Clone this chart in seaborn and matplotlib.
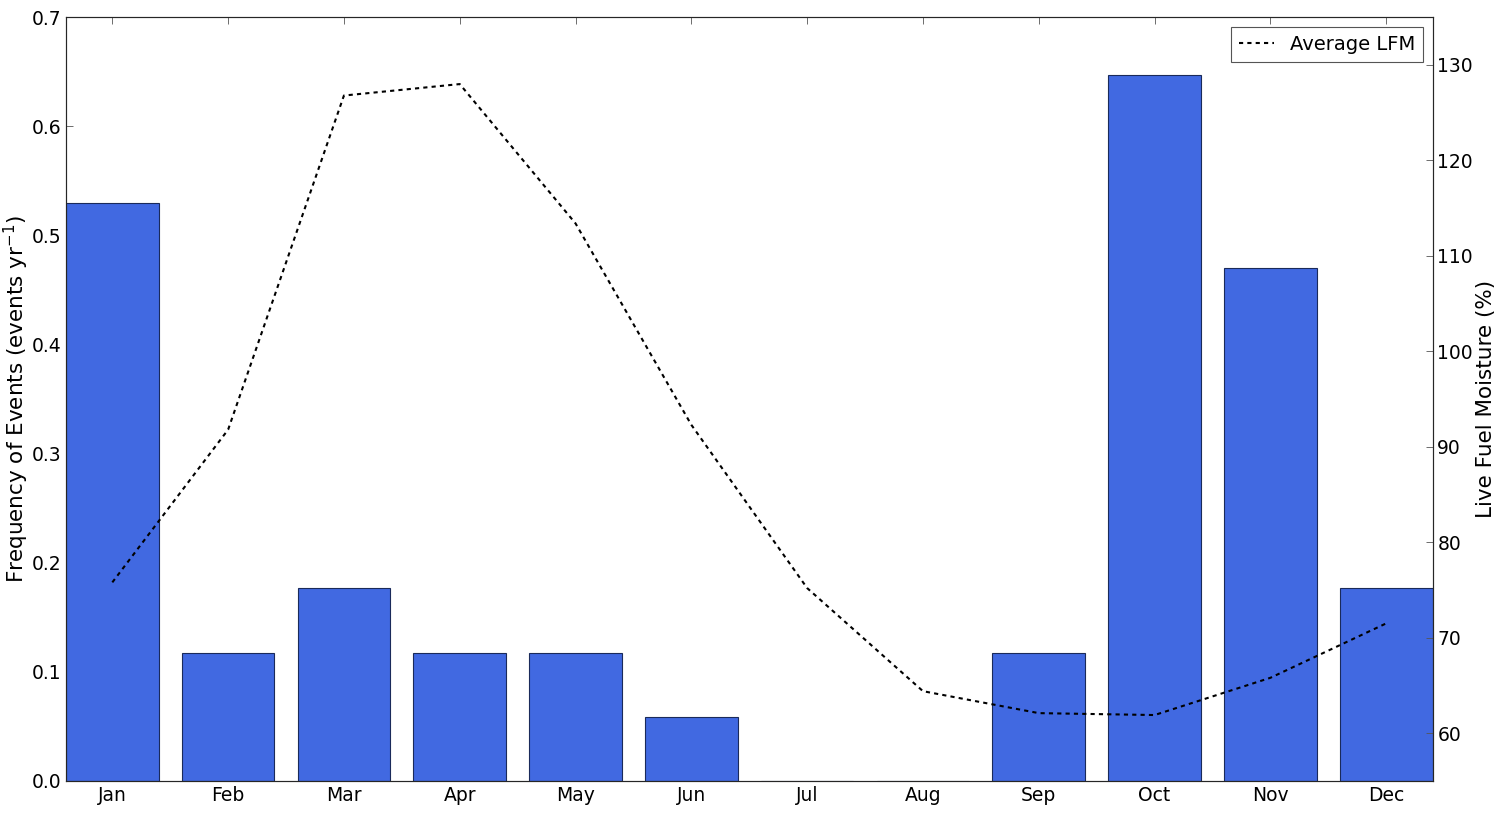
import matplotlib
matplotlib.use("Agg")
import matplotlib.pyplot as plt
import seaborn as sns
import pandas as pd

months = ['Jan', 'Feb', 'Mar', 'Apr', 'May', 'Jun',
          'Jul', 'Aug', 'Sep', 'Oct', 'Nov', 'Dec']
freq = [9/17, 2/17, 3/17, 2/17, 2/17, 1/17, 0, 0, 2/17, 11/17, 8/17, 3/17]
lfm = [75.8, 91.8, 126.8, 128.0, 113.4, 92.3, 75.2, 64.4, 62.1, 61.9, 65.8, 71.5]

df = pd.DataFrame({'month': months, 'freq': freq, 'lfm': lfm})

sns.set_style('white')
plt.rcParams['font.family'] = ['DejaVu Sans']
plt.rcParams['xtick.direction'] = 'in'
plt.rcParams['ytick.direction'] = 'in'
plt.rcParams['text.color'] = 'black'
plt.rcParams['axes.labelcolor'] = 'black'

fig, ax = plt.subplots(figsize=(15, 8.22), dpi=100)
fig.subplots_adjust(left=0.044, right=0.955, top=0.979, bottom=0.05)

sns.barplot(data=df, x='month', y='freq', color='#4169E1', saturation=1,
            width=0.8, edgecolor='#1a2a5a', linewidth=0.8, ax=ax)
ax.set_xlim(-0.4, 11.4)
ax.set_ylim(0, 0.7)
ax.set_xlabel('')
ax.set_ylabel('Frequency of Events (events yr$^{-1}$)', fontsize=15.5, labelpad=0)
ax.tick_params(labelsize=13.5, top=True, length=5, width=0.6, colors='#555555',
               labelcolor='black')
for s in ax.spines.values():
    s.set_color('#555555')
    s.set_linewidth(0.8)

ax2 = ax.twinx()
sns.lineplot(data=df, x='month', y='lfm', color='black', linestyle=(0, (2, 2)),
             linewidth=1.5, ax=ax2, label='Average LFM', sort=False)
ax2.set_ylim(55, 135)
ax2.set_xlim(-0.4, 11.4)
ax2.set_ylabel('Live Fuel Moisture (%)', fontsize=15.5, labelpad=2)
ax2.tick_params(labelsize=13.5, length=5, width=0.6, colors='#555555',
                labelcolor='black')
leg = ax2.legend(loc='upper right', fontsize=14, fancybox=False, framealpha=1,
                 edgecolor='#555555', handlelength=1.8)
leg.get_frame().set_linewidth(0.8)
for t in leg.get_texts():
    t.set_color('black')

fig.savefig('out.png', dpi=100)
